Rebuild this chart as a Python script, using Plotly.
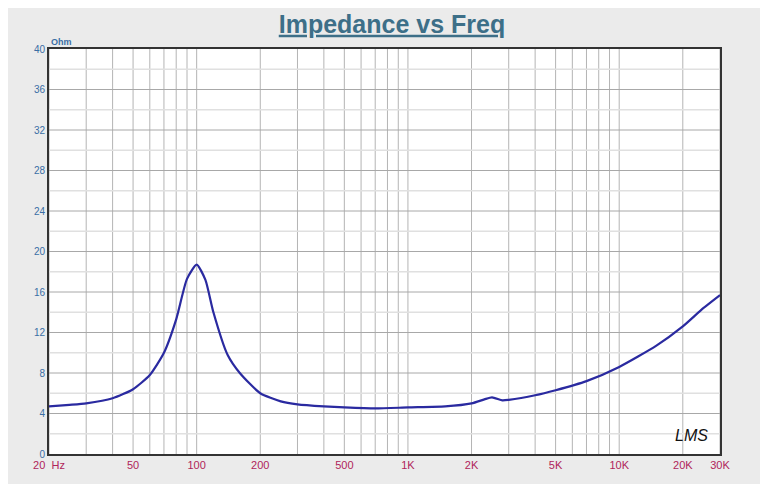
import plotly.graph_objects as go
import numpy as np

freq = [20, 25, 30, 40, 50, 60, 70, 80, 90, 100, 110, 120, 140, 160, 200, 250, 300, 400, 500, 700, 1000, 1500, 2000, 2300, 2500, 2800, 3000, 4000, 5000, 7000, 10000, 15000, 20000, 25000, 30000]
ohm = [4.7, 4.85, 5.0, 5.5, 6.4, 7.8, 10.0, 13.3, 17.3, 18.7, 17.2, 14.0, 9.8, 8.0, 6.0, 5.2, 4.9, 4.7, 4.6, 4.5, 4.6, 4.7, 5.0, 5.4, 5.6, 5.3, 5.35, 5.8, 6.3, 7.2, 8.6, 10.7, 12.6, 14.4, 15.7]

tick_vals = [20, 50, 100, 200, 500, 1000, 2000, 5000, 10000, 20000, 30000]
tick_text = ["20  Hz", "50", "100", "200", "500", "1K", "2K", "5K", "10K", "20K", "30K"]
y_ticks = [0, 4, 8, 12, 16, 20, 24, 28, 32, 36, 40]

fig = go.Figure()
grid_x = [m * 10**d for d in range(1, 5) for m in range(1, 10) if 20 <= m * 10**d <= 30000]
shapes = []
for gx in grid_x:
    shapes.append(dict(type="line", xref="x", yref="paper", x0=gx, x1=gx, y0=0, y1=1,
                       line=dict(color="#b4b4b4", width=1), layer="below"))
for gy in range(2, 40, 4):
    shapes.append(dict(type="line", xref="paper", yref="y", x0=0, x1=1, y0=gy, y1=gy,
                       line=dict(color="#e0e0e0", width=1.5), layer="below"))
for gy in y_ticks[1:-1]:
    shapes.append(dict(type="line", xref="paper", yref="y", x0=0, x1=1, y0=gy, y1=gy,
                       line=dict(color="#a8a8a8", width=1), layer="below"))

fig.add_trace(go.Scatter(x=freq, y=ohm, mode="lines", line=dict(color="#2a2aa0", width=2.2, shape="spline", smoothing=0.6)))

fig.update_layout(
    width=768, height=484,
    paper_bgcolor="#ebebeb", plot_bgcolor="white",
    margin=dict(l=41, r=56, t=41, b=38),
    showlegend=False, shapes=shapes,
    title=dict(text="<b><u>Impedance vs Freq</u></b>", x=0.5, xanchor="center", y=0.985, yanchor="top",
               font=dict(family="Liberation Sans", size=25, color="#3d6f88")),
    xaxis=dict(type="log", range=[np.log10(20), np.log10(30000)], tickvals=tick_vals, ticktext=tick_text,
               showgrid=False, zeroline=False, showline=True, linecolor="#333", linewidth=2, mirror=True,
               tickfont=dict(family="Liberation Sans Narrow, Liberation Sans", size=11, color="#b0245a"), ticks=""),
    yaxis=dict(range=[0, 40], tickvals=y_ticks, showgrid=False, zeroline=False, showline=True,
               linecolor="#333", linewidth=2, mirror=True, ticks="",
               tickfont=dict(family="Liberation Sans", size=10, color="#3a6ea5")),
    annotations=[
        dict(text="<b>Ohm</b>", xref="paper", yref="paper", x=0.0, y=1.0, xanchor="left", yanchor="bottom",
             showarrow=False, font=dict(family="Liberation Sans", size=9, color="#3a6ea5")),
        dict(text="<i>LMS</i>", xref="paper", yref="paper", x=0.985, y=0.02, xanchor="right", yanchor="bottom",
             showarrow=False, font=dict(family="Liberation Sans Narrow, Liberation Sans", size=16, color="#111")),
    ],
)
fig.write_html("out.html")
